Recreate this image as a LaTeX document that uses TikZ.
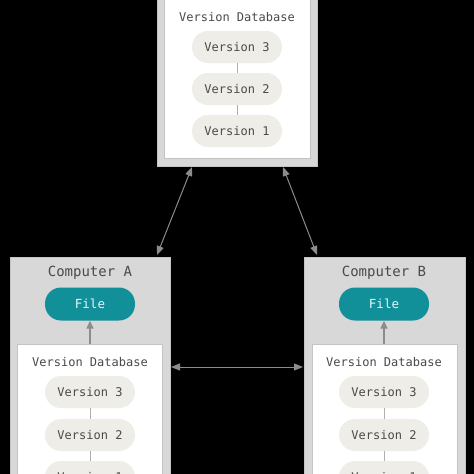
\documentclass[tikz,border=0pt]{standalone}
\usepackage{fontspec}
\setmonofont{DejaVu Sans Mono}
\usetikzlibrary{arrows.meta}
\definecolor{bg}{HTML}{000000}
\definecolor{boxgray}{HTML}{D8D8D8}
\definecolor{boxedge}{HTML}{C4C4C4}
\definecolor{pillc}{HTML}{EEEDE7}
\definecolor{tealc}{HTML}{12909A}
\definecolor{txt}{HTML}{4A4A4A}
\definecolor{arr}{HTML}{8C8C8C}
\tikzset{
  outerbox/.style={draw=boxedge, line width=1pt, fill=boxgray, anchor=north west, inner sep=0pt},
  innerbox/.style={draw=boxedge, line width=0.8pt, fill=white, anchor=north west, inner sep=0pt},
  pill/.style={fill=pillc, rounded corners=16pt, minimum width=90pt, minimum height=32pt, inner sep=0pt, text=txt, font=\ttfamily\fontsize{12}{14}\selectfont},
  filepill/.style={fill=tealc, rounded corners=16pt, minimum width=90pt, minimum height=33pt, inner sep=0pt, text=white!90!tealc, font=\ttfamily\fontsize{12.5}{14}\selectfont},
  title/.style={text=txt, font=\ttfamily\fontsize{12}{14}\selectfont, inner sep=0pt},
  ctitle/.style={text=txt, font=\ttfamily\fontsize{14}{16}\selectfont, inner sep=0pt},
  link/.style={draw=arr!70, line width=0.8pt},
  bigarrow/.style={draw=arr, line width=1pt, {Triangle[length=9pt,width=7pt]}-{Triangle[length=9pt,width=7pt]}},
  uparrow/.style={draw=arr, line width=1.5pt, -{Triangle[length=8pt,width=7pt]}}
}
\begin{document}
\begin{tikzpicture}[x=1pt,y=-1pt]
\useasboundingbox (0,0) rectangle (474,474);
\clip (0,0) rectangle (474,474);
\fill[bg] (0,0) rectangle (474,474);

% Server
\node[outerbox, minimum width=160pt, minimum height=186pt] (srv) at (157,-20) {};
\node[innerbox, minimum width=146pt, minimum height=178pt] (srvdb) at (164,-20) {};
\node[title] (srvt) at (237,17) {Version Database};
\node[pill] (s3) at (237,47) {Version 3};
\node[pill] (s2) at (237,89) {Version 2};
\node[pill] (s1) at (237,131) {Version 1};
\draw[link] (s3) -- (s2);
\draw[link] (s2) -- (s1);

% Computer A
\node[outerbox, minimum width=160pt, minimum height=240pt] (ca) at (10,257) {};
\node[ctitle] (cat) at (90,273) {Computer A};
\node[filepill] (caf) at (90,304) {File};
\node[innerbox, minimum width=145pt, minimum height=160pt] (cadb) at (17,344) {};
\node[title] (cadbt) at (90,362) {Version Database};
\node[pill] (a3) at (90,392) {Version 3};
\node[pill] (a2) at (90,435) {Version 2};
\node[pill] (a1) at (90,477) {Version 1};
\draw[link] (a3) -- (a2);
\draw[link] (a2) -- (a1);
\draw[uparrow] (cadb.north -| caf) -- (caf.south);

% Computer B
\node[outerbox, minimum width=161pt, minimum height=240pt] (cb) at (304,257) {};
\node[ctitle] (cbt) at (384,273) {Computer B};
\node[filepill] (cbf) at (384,304) {File};
\node[innerbox, minimum width=145pt, minimum height=160pt] (cbdb) at (312,344) {};
\node[title] (cbdbt) at (384,362) {Version Database};
\node[pill] (b3) at (384,392) {Version 3};
\node[pill] (b2) at (384,435) {Version 2};
\node[pill] (b1) at (384,477) {Version 1};
\draw[link] (b3) -- (b2);
\draw[link] (b2) -- (b1);
\draw[uparrow] (cbdb.north -| cbf) -- (cbf.south);

% Arrows between machines
\coordinate (sl) at (192,167);
\coordinate (al) at (157,255);
\coordinate (sr) at (283,167);
\coordinate (br) at (317,255);
\coordinate (ah) at (171,367);
\coordinate (bh) at (303,367);
\draw[bigarrow] (sl) -- (al);
\draw[bigarrow] (sr) -- (br);
\draw[bigarrow] (ah) -- (bh);
\end{tikzpicture}
\end{document}
